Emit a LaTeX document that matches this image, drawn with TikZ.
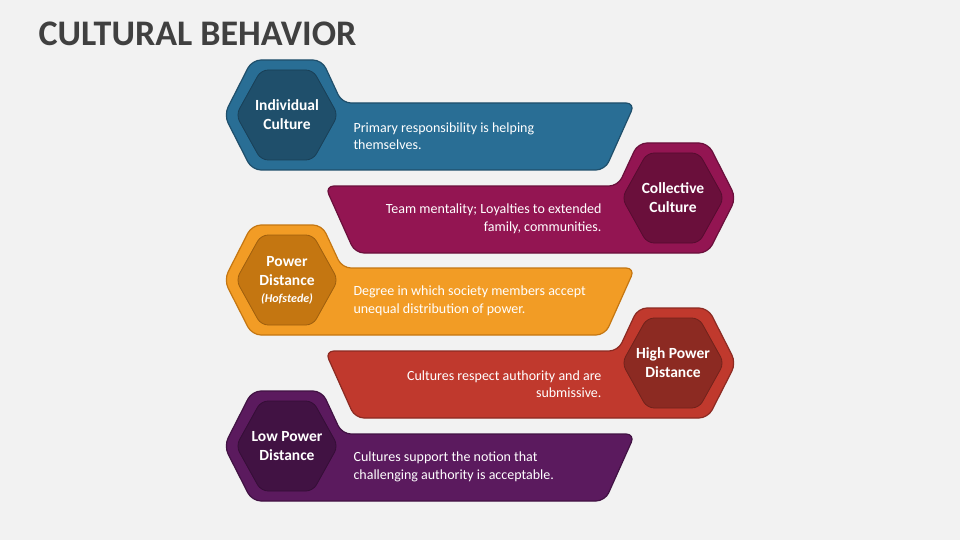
\documentclass[tikz,border=0pt]{standalone}
\usepackage{fontspec}
\setmainfont{Carlito}
\definecolor{bg}{HTML}{F2F2F2}
\definecolor{cA}{HTML}{296E95}\definecolor{iA}{HTML}{1F4F6B}
\definecolor{cB}{HTML}{931552}\definecolor{iB}{HTML}{6A0F3B}
\definecolor{cC}{HTML}{F29C25}\definecolor{iC}{HTML}{C47611}
\definecolor{cD}{HTML}{C0392D}\definecolor{iD}{HTML}{8C2A22}
\definecolor{cE}{HTML}{5B1A5E}\definecolor{iE}{HTML}{411243}
\tikzset{
  outer/.style={rounded corners=9pt, line width=1.2pt},
  inner/.style={rounded corners=7pt, line width=0.8pt},
  hlabel/.style={text=white, font=\bfseries\fontsize{15.5}{19}\selectfont, align=center},
  blabel/.style={text=white, font=\fontsize{14}{17.5}\selectfont}
}
\newcommand{\leftrow}[6]{% y, fill, innerfill, name, hextext, bodytext
  \fill[#2, draw=#3, outer] (224,#1) -- (252,#1-55) -- (322,#1-55) -- (342,#1-12) -- (635,#1-12) -- (605,#1+55) -- (252,#1+55) -- cycle;
  \fill[#3, draw=#3!80!black, inner] (236,#1) -- (261,#1-45) -- (313,#1-45) -- (338,#1) -- (313,#1+45) -- (261,#1+45) -- cycle;
  \node[hlabel] (#4h) at (287,#1) {#5};
  \node[blabel, anchor=west, align=left] (#4b) at (350,#1+21) {#6};
}
\newcommand{\rightrow}[6]{%
  \fill[#2, draw=#3, outer] (736,#1) -- (708,#1-55) -- (638,#1-55) -- (618,#1-12) -- (325,#1-12) -- (355,#1+55) -- (708,#1+55) -- cycle;
  \fill[#3, draw=#3!80!black, inner] (724,#1) -- (699,#1-45) -- (647,#1-45) -- (622,#1) -- (647,#1+45) -- (699,#1+45) -- cycle;
  \node[hlabel] (#4h) at (673,#1) {#5};
  \node[blabel, anchor=east, align=right] (#4b) at (605,#1+21) {#6};
}
\begin{document}
\begin{tikzpicture}[x=1pt,y=-1pt]
\fill[bg] (0,0) rectangle (960,540);
\node[anchor=west, text=black!75, font=\bfseries\fontsize{36}{40}\selectfont] (title) at (35,34) {CULTURAL BEHAVIOR};
\leftrow{115}{cA}{iA}{a}{Individual\\Culture}{Primary responsibility is helping\\themselves.}
\rightrow{198}{cB}{iB}{b}{Collective\\Culture}{Team mentality; Loyalties to extended\\family, communities.}
\leftrow{280}{cC}{iC}{c}{Power\\Distance\\[-2pt]{\itshape\fontsize{12}{14}\selectfont (Hofstede)}}{Degree in which society members accept\\unequal distribution of power.}
\rightrow{363}{cD}{iD}{d}{High Power\\Distance}{Cultures respect authority and are\\submissive.}
\leftrow{446}{cE}{iE}{e}{Low Power\\Distance}{Cultures support the notion that\\challenging authority is acceptable.}
\end{tikzpicture}
\end{document}
